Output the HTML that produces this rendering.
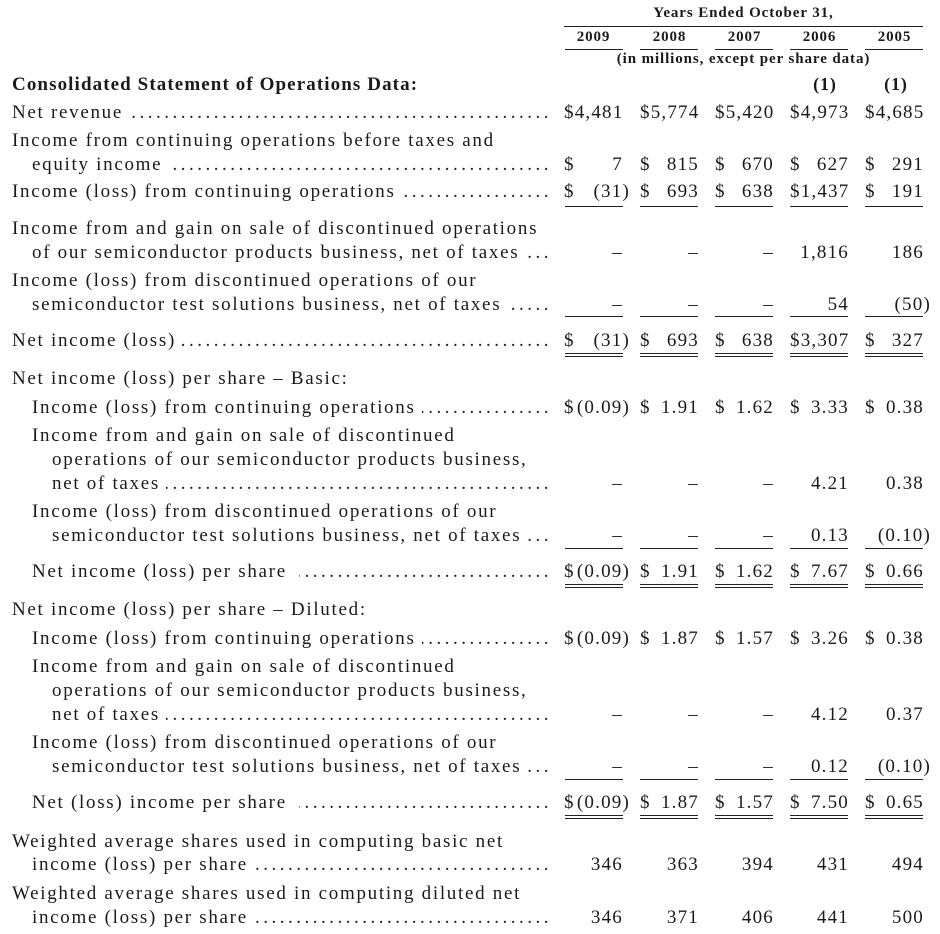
<!DOCTYPE html>
<html><head><meta charset="utf-8"><style>
body{margin:0;background:#fff;}
#p{position:relative;width:940px;height:934px;overflow:hidden;background:#fff;color:#1a1a1a;font-family:"Liberation Serif",serif;}
.r{position:absolute;height:24px;line-height:24px;font-size:19px;letter-spacing:1.7px;white-space:nowrap}
.l{display:flex;right:388px}
.l .t{flex:none}
.l .d{flex:1;overflow:hidden;direction:rtl;letter-spacing:3.5px;margin-left:6px}
.v{position:absolute;width:59px;height:24px;line-height:24px;font-size:19px;letter-spacing:1.2px;text-align:right;white-space:nowrap}
.v .s{position:absolute;left:0;top:0}
.v .p{position:relative;left:7px}
.h{position:absolute;font-size:15px;font-weight:bold;letter-spacing:.9px;white-space:nowrap;text-align:center}
.ln{position:absolute;height:1.3px;background:#222}
</style></head><body><div id="p">
<div class="h" style="left:564px;width:359px;top:5px">Years Ended October 31,</div>
<div class="ln" style="left:564px;width:359px;top:26px"></div>
<div class="h" style="left:564px;width:59px;top:29px">2009</div>
<div class="h" style="left:640px;width:59px;top:29px">2008</div>
<div class="h" style="left:715px;width:59px;top:29px">2007</div>
<div class="h" style="left:790px;width:59px;top:29px">2006</div>
<div class="h" style="left:865px;width:59px;top:29px">2005</div>
<div class="ln" style="left:565px;width:58px;top:49px"></div>
<div class="ln" style="left:640px;width:58px;top:49px"></div>
<div class="ln" style="left:715px;width:58px;top:49px"></div>
<div class="ln" style="left:790px;width:58px;top:49px"></div>
<div class="ln" style="left:865px;width:58px;top:49px"></div>
<div class="h" style="left:564px;width:359px;top:51px">(in millions, except per share data)</div>
<div class="h" style="left:800px;width:50px;top:74px;font-size:18px">(1)</div>
<div class="h" style="left:871px;width:50px;top:74px;font-size:18px">(1)</div>

<div class="r" style="left:12px;top:73px;font-weight:bold;letter-spacing:1.1px">Consolidated Statement of Operations Data:</div>

<div class="r l" style="left:12px;top:101px"><span class="t">Net revenue</span><span class="d">....................................................</span></div>
<div class="v" style="left:564px;top:101px">$4,481</div><div class="v" style="left:640px;top:101px">$5,774</div><div class="v" style="left:715px;top:101px">$5,420</div><div class="v" style="left:790px;top:101px">$4,973</div><div class="v" style="left:865px;top:101px">$4,685</div>

<div class="r" style="left:12px;top:129px">Income from continuing operations before taxes and</div>
<div class="r l" style="left:32px;top:153px"><span class="t">equity income</span><span class="d">....................................................</span></div>
<div class="v" style="left:564px;top:153px"><span class="s">$</span>7</div><div class="v" style="left:640px;top:153px"><span class="s">$</span>815</div><div class="v" style="left:715px;top:153px"><span class="s">$</span>670</div><div class="v" style="left:790px;top:153px"><span class="s">$</span>627</div><div class="v" style="left:865px;top:153px"><span class="s">$</span>291</div>

<div class="r l" style="left:12px;top:180px"><span class="t">Income (loss) from continuing operations</span><span class="d">....................................................</span></div>
<div class="v" style="left:564px;top:180px"><span class="s">$</span><span class="p">(31)</span></div><div class="v" style="left:640px;top:180px"><span class="s">$</span>693</div><div class="v" style="left:715px;top:180px"><span class="s">$</span>638</div><div class="v" style="left:790px;top:180px">$1,437</div><div class="v" style="left:865px;top:180px"><span class="s">$</span>191</div>
<div class="ln" style="left:565px;width:58px;top:206px"></div><div class="ln" style="left:640px;width:58px;top:206px"></div><div class="ln" style="left:715px;width:58px;top:206px"></div><div class="ln" style="left:790px;width:58px;top:206px"></div><div class="ln" style="left:865px;width:58px;top:206px"></div>

<div class="r" style="left:12px;top:217px">Income from and gain on sale of discontinued operations</div>
<div class="r l" style="left:32px;top:241px"><span class="t">of our semiconductor products business, net of taxes</span><span class="d">....................................................</span></div>
<div class="v" style="left:564px;top:241px">–</div><div class="v" style="left:640px;top:241px">–</div><div class="v" style="left:715px;top:241px">–</div><div class="v" style="left:790px;top:241px">1,816</div><div class="v" style="left:865px;top:241px">186</div>

<div class="r" style="left:12px;top:269px">Income (loss) from discontinued operations of our</div>
<div class="r l" style="left:32px;top:293px"><span class="t">semiconductor test solutions business, net of taxes</span><span class="d">....................................................</span></div>
<div class="v" style="left:564px;top:293px">–</div><div class="v" style="left:640px;top:293px">–</div><div class="v" style="left:715px;top:293px">–</div><div class="v" style="left:790px;top:293px">54</div><div class="v" style="left:865px;top:293px"><span class="p">(50)</span></div>
<div class="ln" style="left:565px;width:58px;top:316px"></div><div class="ln" style="left:640px;width:58px;top:316px"></div><div class="ln" style="left:715px;width:58px;top:316px"></div><div class="ln" style="left:790px;width:58px;top:316px"></div><div class="ln" style="left:865px;width:58px;top:316px"></div>

<div class="r l" style="left:12px;top:329px"><span class="t">Net income (loss)</span><span class="d">....................................................</span></div>
<div class="v" style="left:564px;top:329px"><span class="s">$</span><span class="p">(31)</span></div><div class="v" style="left:640px;top:329px"><span class="s">$</span>693</div><div class="v" style="left:715px;top:329px"><span class="s">$</span>638</div><div class="v" style="left:790px;top:329px">$3,307</div><div class="v" style="left:865px;top:329px"><span class="s">$</span>327</div>
<div class="ln" style="left:565px;width:58px;top:353px"></div><div class="ln" style="left:640px;width:58px;top:353px"></div><div class="ln" style="left:715px;width:58px;top:353px"></div><div class="ln" style="left:790px;width:58px;top:353px"></div><div class="ln" style="left:865px;width:58px;top:353px"></div>
<div class="ln" style="left:565px;width:58px;top:356px"></div><div class="ln" style="left:640px;width:58px;top:356px"></div><div class="ln" style="left:715px;width:58px;top:356px"></div><div class="ln" style="left:790px;width:58px;top:356px"></div><div class="ln" style="left:865px;width:58px;top:356px"></div>

<div class="r" style="left:12px;top:367px">Net income (loss) per share – Basic:</div>
<div class="r l" style="left:32px;top:396px"><span class="t">Income (loss) from continuing operations</span><span class="d">....................................................</span></div>
<div class="v" style="left:564px;top:396px"><span class="s">$</span><span class="p">(0.09)</span></div><div class="v" style="left:640px;top:396px"><span class="s">$</span>1.91</div><div class="v" style="left:715px;top:396px"><span class="s">$</span>1.62</div><div class="v" style="left:790px;top:396px"><span class="s">$</span>3.33</div><div class="v" style="left:865px;top:396px"><span class="s">$</span>0.38</div>
<div class="r" style="left:32px;top:424px">Income from and gain on sale of discontinued</div>
<div class="r" style="left:52px;top:448px">operations of our semiconductor products business,</div>
<div class="r l" style="left:52px;top:472px"><span class="t">net of taxes</span><span class="d">....................................................</span></div>
<div class="v" style="left:564px;top:472px">–</div><div class="v" style="left:640px;top:472px">–</div><div class="v" style="left:715px;top:472px">–</div><div class="v" style="left:790px;top:472px">4.21</div><div class="v" style="left:865px;top:472px">0.38</div>
<div class="r" style="left:32px;top:500px">Income (loss) from discontinued operations of our</div>
<div class="r l" style="left:52px;top:524px"><span class="t">semiconductor test solutions business, net of taxes</span><span class="d">....................................................</span></div>
<div class="v" style="left:564px;top:524px">–</div><div class="v" style="left:640px;top:524px">–</div><div class="v" style="left:715px;top:524px">–</div><div class="v" style="left:790px;top:524px">0.13</div><div class="v" style="left:865px;top:524px"><span class="p">(0.10)</span></div>
<div class="ln" style="left:565px;width:58px;top:548px"></div><div class="ln" style="left:640px;width:58px;top:548px"></div><div class="ln" style="left:715px;width:58px;top:548px"></div><div class="ln" style="left:790px;width:58px;top:548px"></div><div class="ln" style="left:865px;width:58px;top:548px"></div>

<div class="r l" style="left:32px;top:560px"><span class="t">Net income (loss) per share&nbsp;</span><span class="d">....................................................</span></div>
<div class="v" style="left:564px;top:560px"><span class="s">$</span><span class="p">(0.09)</span></div><div class="v" style="left:640px;top:560px"><span class="s">$</span>1.91</div><div class="v" style="left:715px;top:560px"><span class="s">$</span>1.62</div><div class="v" style="left:790px;top:560px"><span class="s">$</span>7.67</div><div class="v" style="left:865px;top:560px"><span class="s">$</span>0.66</div>
<div class="ln" style="left:565px;width:58px;top:584px"></div><div class="ln" style="left:640px;width:58px;top:584px"></div><div class="ln" style="left:715px;width:58px;top:584px"></div><div class="ln" style="left:790px;width:58px;top:584px"></div><div class="ln" style="left:865px;width:58px;top:584px"></div>
<div class="ln" style="left:565px;width:58px;top:587px"></div><div class="ln" style="left:640px;width:58px;top:587px"></div><div class="ln" style="left:715px;width:58px;top:587px"></div><div class="ln" style="left:790px;width:58px;top:587px"></div><div class="ln" style="left:865px;width:58px;top:587px"></div>

<div class="r" style="left:12px;top:598px">Net income (loss) per share – Diluted:</div>
<div class="r l" style="left:32px;top:627px"><span class="t">Income (loss) from continuing operations</span><span class="d">....................................................</span></div>
<div class="v" style="left:564px;top:627px"><span class="s">$</span><span class="p">(0.09)</span></div><div class="v" style="left:640px;top:627px"><span class="s">$</span>1.87</div><div class="v" style="left:715px;top:627px"><span class="s">$</span>1.57</div><div class="v" style="left:790px;top:627px"><span class="s">$</span>3.26</div><div class="v" style="left:865px;top:627px"><span class="s">$</span>0.38</div>
<div class="r" style="left:32px;top:655px">Income from and gain on sale of discontinued</div>
<div class="r" style="left:52px;top:679px">operations of our semiconductor products business,</div>
<div class="r l" style="left:52px;top:703px"><span class="t">net of taxes</span><span class="d">....................................................</span></div>
<div class="v" style="left:564px;top:703px">–</div><div class="v" style="left:640px;top:703px">–</div><div class="v" style="left:715px;top:703px">–</div><div class="v" style="left:790px;top:703px">4.12</div><div class="v" style="left:865px;top:703px">0.37</div>
<div class="r" style="left:32px;top:731px">Income (loss) from discontinued operations of our</div>
<div class="r l" style="left:52px;top:755px"><span class="t">semiconductor test solutions business, net of taxes</span><span class="d">....................................................</span></div>
<div class="v" style="left:564px;top:755px">–</div><div class="v" style="left:640px;top:755px">–</div><div class="v" style="left:715px;top:755px">–</div><div class="v" style="left:790px;top:755px">0.12</div><div class="v" style="left:865px;top:755px"><span class="p">(0.10)</span></div>
<div class="ln" style="left:565px;width:58px;top:779px"></div><div class="ln" style="left:640px;width:58px;top:779px"></div><div class="ln" style="left:715px;width:58px;top:779px"></div><div class="ln" style="left:790px;width:58px;top:779px"></div><div class="ln" style="left:865px;width:58px;top:779px"></div>

<div class="r l" style="left:32px;top:791px"><span class="t">Net (loss) income per share&nbsp;</span><span class="d">....................................................</span></div>
<div class="v" style="left:564px;top:791px"><span class="s">$</span><span class="p">(0.09)</span></div><div class="v" style="left:640px;top:791px"><span class="s">$</span>1.87</div><div class="v" style="left:715px;top:791px"><span class="s">$</span>1.57</div><div class="v" style="left:790px;top:791px"><span class="s">$</span>7.50</div><div class="v" style="left:865px;top:791px"><span class="s">$</span>0.65</div>
<div class="ln" style="left:565px;width:58px;top:815px"></div><div class="ln" style="left:640px;width:58px;top:815px"></div><div class="ln" style="left:715px;width:58px;top:815px"></div><div class="ln" style="left:790px;width:58px;top:815px"></div><div class="ln" style="left:865px;width:58px;top:815px"></div>
<div class="ln" style="left:565px;width:58px;top:818px"></div><div class="ln" style="left:640px;width:58px;top:818px"></div><div class="ln" style="left:715px;width:58px;top:818px"></div><div class="ln" style="left:790px;width:58px;top:818px"></div><div class="ln" style="left:865px;width:58px;top:818px"></div>

<div class="r" style="left:12px;top:830px">Weighted average shares used in computing basic net</div>
<div class="r l" style="left:32px;top:853px"><span class="t">income (loss) per share</span><span class="d">....................................................</span></div>
<div class="v" style="left:564px;top:853px">346</div><div class="v" style="left:640px;top:853px">363</div><div class="v" style="left:715px;top:853px">394</div><div class="v" style="left:790px;top:853px">431</div><div class="v" style="left:865px;top:853px">494</div>
<div class="r" style="left:12px;top:882px">Weighted average shares used in computing diluted net</div>
<div class="r l" style="left:32px;top:906px"><span class="t">income (loss) per share</span><span class="d">....................................................</span></div>
<div class="v" style="left:564px;top:906px">346</div><div class="v" style="left:640px;top:906px">371</div><div class="v" style="left:715px;top:906px">406</div><div class="v" style="left:790px;top:906px">441</div><div class="v" style="left:865px;top:906px">500</div>
</div></body></html>
